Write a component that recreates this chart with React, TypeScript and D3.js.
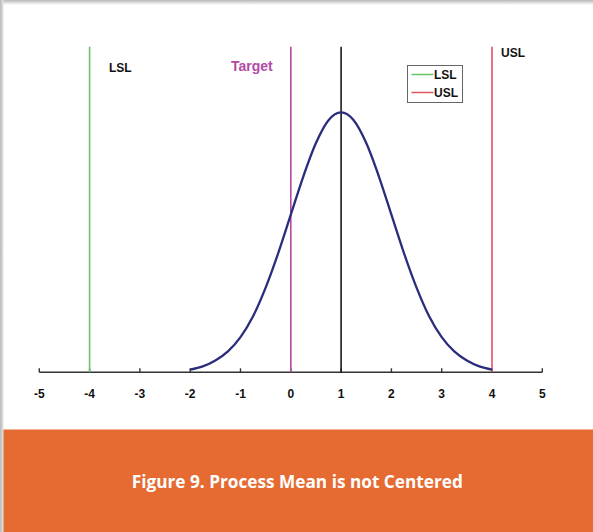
import * as d3 from "d3";

const W = 593;
const H = 532;

// x positions and the density (mean 1)
const curveX = [-2, -1.75, -1.5, -1.25, -1, -0.75, -0.5, -0.25, 0, 0.25, 0.5, 0.75, 1, 1.25, 1.5, 1.75, 2, 2.25, 2.5, 2.75, 3, 3.25, 3.5, 3.75, 4];
const curveY = [0.004, 0.009, 0.018, 0.032, 0.054, 0.086, 0.13, 0.183, 0.242, 0.301, 0.352, 0.387, 0.399, 0.387, 0.352, 0.301, 0.242, 0.183, 0.13, 0.086, 0.054, 0.032, 0.018, 0.009, 0.004];

const ticks = [-5, -4, -3, -2, -1, 0, 1, 2, 3, 4, 5];

const refLines = [
    { key: "lsl", value: -4, color: "#6cc46a" },
    { key: "target", value: 0, color: "#b34aa3" },
    { key: "mean", value: 1, color: "#1a1a1a" },
    { key: "usl", value: 4, color: "#de5561" },
];

const legendItems = [
    { label: "LSL", color: "#6cc46a" },
    { label: "USL", color: "#de5561" },
];

const FONT = "'Liberation Sans', Arial, sans-serif";

export default function App() {
    const x = d3.scaleLinear().domain([-5, 5]).range([39.3, 542.3]);
    const y = d3.scaleLinear().domain([0, 0.5]).range([372.3, 46.7]);

    const points = curveX.map((v, i) => [v, curveY[i]] as [number, number]);
    const line = d3
        .line<[number, number]>()
        .x((d) => x(d[0]))
        .y((d) => y(d[1]))
        .curve(d3.curveMonotoneX);

    const y0 = y(0);
    const yTop = y(0.5);

    return (
        <div style={{ position: "fixed", left: 0, top: 0 }}>
            <svg width={W} height={H} style={{ display: "block" }}>
                <defs>
                    <linearGradient id="shadeTop" x1="0" y1="0" x2="0" y2="1">
                        <stop offset="0" stopColor="#b8b8b8" />
                        <stop offset="1" stopColor="#ffffff" />
                    </linearGradient>
                    <linearGradient id="shadeLeft" x1="0" y1="0" x2="1" y2="0">
                        <stop offset="0" stopColor="#b8b8b8" />
                        <stop offset="1" stopColor="#e6e6e6" />
                    </linearGradient>
                </defs>
                <rect x={0} y={0} width={W} height={H} fill="#ffffff" />
                <rect x={0} y={0} width={W} height={5} fill="url(#shadeTop)" />
                <rect x={0} y={429.5} width={W} height={H - 429.5} fill="#e66b32" />
                <rect x={0} y={0} width={3.5} height={H} fill="url(#shadeLeft)" />

                {/* axis */}
                <line x1={x(-5)} x2={x(5)} y1={y0} y2={y0} stroke="#333" strokeWidth={1.6} />
                {ticks.map((t) => (
                    <g key={t}>
                        <line x1={x(t)} x2={x(t)} y1={y0} y2={y0 - 4} stroke="#333" strokeWidth={1.4} />
                        <text x={x(t)} y={397.5} textAnchor="middle" fontFamily={FONT} fontWeight="bold" fontSize={12} fill="#111">
                            {t}
                        </text>
                    </g>
                ))}

                {/* spec / target / mean lines */}
                {refLines.map((r) => (
                    <line key={r.key} x1={x(r.value)} x2={x(r.value)} y1={y0} y2={yTop} stroke={r.color} strokeWidth={1.6} />
                ))}

                <path d={line(points) ?? ""} fill="none" stroke="#2b2c7c" strokeWidth={2.3} />

                {/* annotations */}
                <text x={109} y={72} fontFamily={FONT} fontWeight="bold" fontSize={12} fill="#111">LSL</text>
                <text x={231} y={71} fontFamily={FONT} fontWeight="bold" fontSize={14} fill="#b34aa3">Target</text>
                <text x={501} y={57} fontFamily={FONT} fontWeight="bold" fontSize={12} fill="#111">USL</text>

                {/* legend */}
                <rect x={407.5} y={65.5} width={55} height={37} fill="#fff" stroke="#666" strokeWidth={1} />
                {legendItems.map((d, i) => (
                    <g key={d.label} transform={`translate(0, ${74.5 + i * 18})`}>
                        <line x1={411.5} x2={433.5} y1={0} y2={0} stroke={d.color} strokeWidth={1.5} />
                        <text x={434} y={4.5} fontFamily={FONT} fontWeight="bold" fontSize={12} fill="#111">
                            {d.label}
                        </text>
                    </g>
                ))}

                <text
                    x={297.3}
                    y={488}
                    textAnchor="middle"
                    fontFamily="'Open Sans', Lato, sans-serif"
                    fontWeight="bold"
                    fontSize={17.5}
                    fill="#ffffff"
                    textLength={331}
                    lengthAdjust="spacingAndGlyphs"
                >
                    Figure 9. Process Mean is not Centered
                </text>
            </svg>
        </div>
    );
}
